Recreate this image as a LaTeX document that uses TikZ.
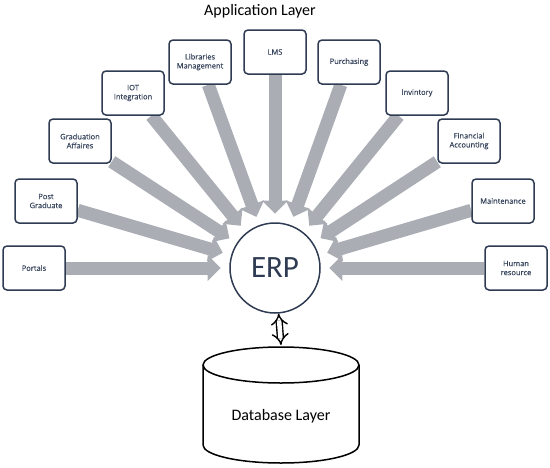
\documentclass[tikz,border=0pt]{standalone}
\usepackage{fontspec}
\setmainfont{Carlito}
\newfontfamily\boxfont[FakeBold=0.5]{Open Sans}
\usetikzlibrary{arrows.meta,backgrounds}

\definecolor{navy}{RGB}{46,59,82}
\definecolor{labelnavy}{RGB}{56,70,94}
\definecolor{arrowgray}{RGB}{170,173,180}

\tikzset{every picture/.style={line width=0.75pt}}
\tikzset{
  modbox/.style={draw=navy, line width=1.5pt, rounded corners=4pt, fill=white,
    minimum width=62pt, minimum height=44pt, align=center, inner sep=1pt,
    font=\boxfont\fontsize{7.5}{9}\selectfont, text=labelnavy},
  feed/.style={draw=arrowgray, line width=13pt, -{Triangle[width=25pt,length=13pt]}},
}

\begin{document}
\begin{tikzpicture}[x=1pt,y=1pt,yscale=-1]
\path[use as bounding box] (0,0) rectangle (550,467);

% Title
\node[font=\fontsize{16}{19}\selectfont] (title) at (260,11) {Application Layer};

% ERP core
\node[circle, draw=navy, line width=1.5pt, minimum size=90pt, inner sep=0pt,
  font=\fontsize{31}{36}\selectfont, text=navy] (erp) at (275,268) {ERP};
\node[circle, minimum size=108pt, inner sep=0pt] (halo) at (275,268) {};

% Module boxes
\node[modbox] (portals) at (34,268) {Portals};
\node[modbox] (postgrad) at (46,201) {Post\\Graduate};
\node[modbox] (gradaff) at (80,141) {Graduation\\Affaires};
\node[modbox] (iot) at (133,93) {IOT\\Integration};
\node[modbox] (libman) at (200,62) {Libraries\\Management};
\node[modbox] (lms) at (275,52) {LMS};
\node[modbox] (purch) at (349,62) {Purchasing};
\node[modbox] (invent) at (417,93) {Invintory};
\node[modbox] (finacc) at (469,141) {Financial\\Accounting};
\node[modbox] (maint) at (503,201) {Maintenance};
\node[modbox] (human) at (516,268) {Human\\resource};

% Feed arrows into ERP
\begin{scope}[on background layer]
\foreach \m in {portals,postgrad,gradaff,iot,libman,lms,purch,invent,finacc,maint,human}
  \draw[feed] (\m) -- (halo);
\end{scope}

% Database Layer
\draw[line width=1.5pt] (281,365) ellipse [x radius=78, y radius=18];
\draw[line width=1.5pt] (203,365) -- (203,445)
  arc [start angle=180, end angle=0, x radius=78, y radius=18] -- (359,365);
\node[font=\fontsize{16}{19}\selectfont] (db) at (281,416) {Database Layer};
\coordinate (dbtop) at (281,345);

% ERP <-> Database
\draw[double, double distance=4.5pt, line width=1.4pt,
  {Implies[scale=1.4]}-{Implies[scale=1.4]}] (erp) -- (dbtop);

\end{tikzpicture}
\end{document}
